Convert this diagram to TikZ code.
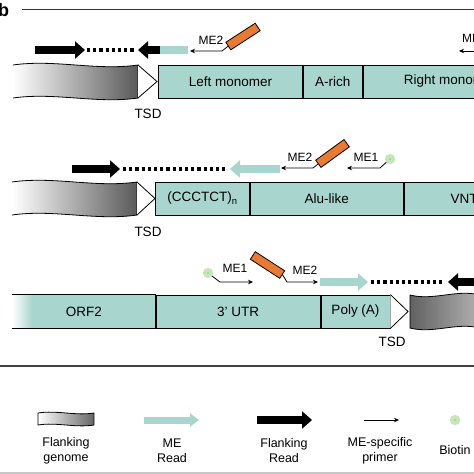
\documentclass[tikz,border=0pt]{standalone}
\usepackage{fontspec}
\setmainfont{Liberation Sans}
\usetikzlibrary{arrows.meta,positioning}

\definecolor{meteal}{RGB}{168,214,207}
\definecolor{barorange}{RGB}{233,122,50}
\definecolor{biogreen}{RGB}{110,192,78}

% wavy flanking genome: x1, x2, top, bottom, wave height
\newcommand{\flankgenome}[5]{(#1,#3) .. controls +({(#2-#1)/3},-#5) and +({(#1-#2)/3},#5) .. (#2,#3) -- (#2,#4) .. controls +({(#1-#2)/3},#5) and +({(#2-#1)/3},-#5) .. (#1,#4)}

\begin{document}
\begin{tikzpicture}[x=1pt, y=-1pt,
    seg/.style={draw, line width=0.8pt, fill=meteal, minimum height=33pt, inner sep=0pt, anchor=west, font=\fontsize{13.5}{16}\selectfont},
    flankfill/.style={draw, line width=0.8pt},
    flankread/.style={line width=8pt, -{Triangle[length=10pt,width=17pt]}},
    meread/.style={draw=meteal, line width=8pt, -{Triangle[length=10pt,width=17pt]}},
    gap/.style={line width=3.2pt, dash pattern=on 3.2pt off 3pt},
    primer/.style={line width=0.8pt, -{Stealth[length=5pt,width=4.5pt]}},
    bar/.style={draw, line width=0.8pt, fill=barorange, minimum width=35pt, minimum height=9pt, inner sep=0pt},
    biotin/.style={circle, inner sep=0pt, minimum size=6pt, fill=biogreen, draw=biogreen!40, line width=4pt},
    lab/.style={font=\fontsize{12}{14}\selectfont, inner sep=0pt},
    tsd/.style={font=\fontsize{13.5}{16}\selectfont, inner sep=0pt},
    legend/.style={font=\fontsize{12.5}{15}\selectfont, align=center, inner sep=0pt}]
    \useasboundingbox (0,0) rectangle (474,474);
    \clip (0,0) rectangle (474,474);

    % Panel heading
    \node[font=\bfseries\fontsize{18}{20}\selectfont, anchor=west, inner sep=0pt] (panel) at (-2,10) {b};
    \draw[line width=1pt, black!80] (22,9) -- (474,9);

    % Row 1: flanking genome, TSD and element
    \path[flankfill, left color=white, right color=black!65] \flankgenome{13}{138}{65}{98}{6};
    \draw[line width=0.8pt, fill=white] (138,65) -- (157,81.5) -- (138,98);
    \node[tsd] (tsd1) at (148,114) {TSD};
    \node[seg, minimum width=144pt] (leftmono) at (158,81.5) {Left monomer};
    \node[seg, minimum width=59pt, right=0pt of leftmono] (arich) {A-rich};
    \node[seg, minimum width=174pt, right=0pt of arich] (rightmono) {Right monomer};

    % Row 1: reads and primers
    \draw[flankread] (35,50) -- (85,50);
    \draw[gap] (87,50) -- (136,50);
    \draw[line width=8pt, meteal] (188,50) -- (159,50);
    \draw[flankread] (160,50) -- (138,50);
    \node[bar, rotate=33] (bar1) at (243,36.5) {};
    \coordinate (knee1) at (222,51);
    \draw[primer] (bar1.west) -- (knee1) -- (190,51);
    \node[lab] (me2a) at (211,40) {ME2};
    \coordinate (cut1) at (480,51);
    \draw[primer] (cut1) -- (459,51);
    \node[lab, anchor=west] (me1a) at (462,38) {ME1};

    % Row 2: flanking genome, TSD and element
    \path[flankfill, left color=white, right color=black!65] \flankgenome{12}{137}{182}{215}{6};
    \draw[line width=0.8pt, fill=white] (137,182) -- (155,198.5) -- (137,215);
    \node[tsd] (tsd2) at (148,232) {TSD};
    \node[seg, minimum width=94pt] (ccctct) at (155,198.5) {(CCCTCT)\textsubscript{n}};
    \node[seg, minimum width=153pt, right=0pt of ccctct] (alulike) {Alu-like};
    \node[seg, minimum width=130pt, right=0pt of alulike] (vntr) {VNTR};

    % Row 2: reads and primers
    \draw[flankread] (72,169) -- (120,169);
    \draw[gap] (123,169) -- (226,169);
    \draw[meread] (280,169) -- (230,169);
    \node[bar, rotate=36] (bar2) at (332.5,153.5) {};
    \coordinate (knee2) at (313,168);
    \draw[primer] (bar2.west) -- (knee2) -- (281,168);
    \node[lab] (me2b) at (300,157) {ME2};
    \node[biotin] (bio2) at (390,159) {};
    \coordinate (knee3) at (380,168);
    \draw[primer] (bio2) -- (knee3) -- (347,168);
    \node[lab] (me1b) at (366,157) {ME1};

    % Row 3: element, TSD and flanking genome
    \node[seg, draw=none, minimum width=143pt] (orf2) at (12,311.5) {ORF2};
    \shade[left color=white, right color=meteal] (orf2.north west) rectangle ([xshift=20pt]orf2.south west);
    \draw[line width=0.8pt] (orf2.north west) -- (orf2.north east) -- (orf2.south east) -- (orf2.south west);
    \node[seg, minimum width=164pt, right=0pt of orf2] (utr) {3' UTR};
    \node[seg, minimum width=69pt, right=0pt of utr] (polya) {Poly (A)};
    \draw[line width=0.8pt, fill=white] (polya.north east) -- (408,311.5) -- (polya.south east);
    \path[flankfill, left color=black!62, right color=black!30] \flankgenome{480}{410}{295}{328}{6};
    \node[tsd] (tsd3) at (392,342) {TSD};

    % Row 3: reads and primers
    \node[biotin] (bio3) at (208,273) {};
    \coordinate (knee4) at (220,282);
    \draw[primer] (bio3) -- (knee4) -- (253,282);
    \node[lab] (me1c) at (235,268) {ME1};
    \node[bar, rotate=-33] (bar3) at (267.5,265) {};
    \coordinate (knee5) at (287,282);
    \draw[primer] (bar3.east) -- (knee5) -- (318,282);
    \node[lab] (me2c) at (305,270) {ME2};
    \draw[meread] (320,282) -- (368,282);
    \draw[gap] (371,282) -- (445,282);
    \draw[flankread] (480,282) -- (448,282);

    % Legend
    \draw[line width=1.2pt, black!75] (0,366) -- (474,366);
    \path[flankfill, left color=white, right color=black!60] \flankgenome{38}{94}{413}{425}{3} -- cycle;
    \node[legend] (lgenome) at (66,450.5) {Flanking\\genome};
    \draw[draw=meteal, line width=7pt, -{Triangle[length=9pt,width=13pt]}] (144,420) -- (199,420);
    \node[legend] (lmeread) at (172,450.5) {ME\\Read};
    \draw[flankread] (257,420) -- (312,420);
    \node[legend] (lflread) at (284,450.5) {Flanking\\Read};
    \draw[primer] (364,420) -- (399,420);
    \node[legend] (lprimer) at (380,450.5) {ME-specific\\primer};
    \node[biotin] (lbio) at (455,420) {};
    \node[legend] (lbiotin) at (455,450) {Biotin};
    \draw[line width=3pt, black!22] (0,473) -- (474,473);
\end{tikzpicture}
\end{document}
